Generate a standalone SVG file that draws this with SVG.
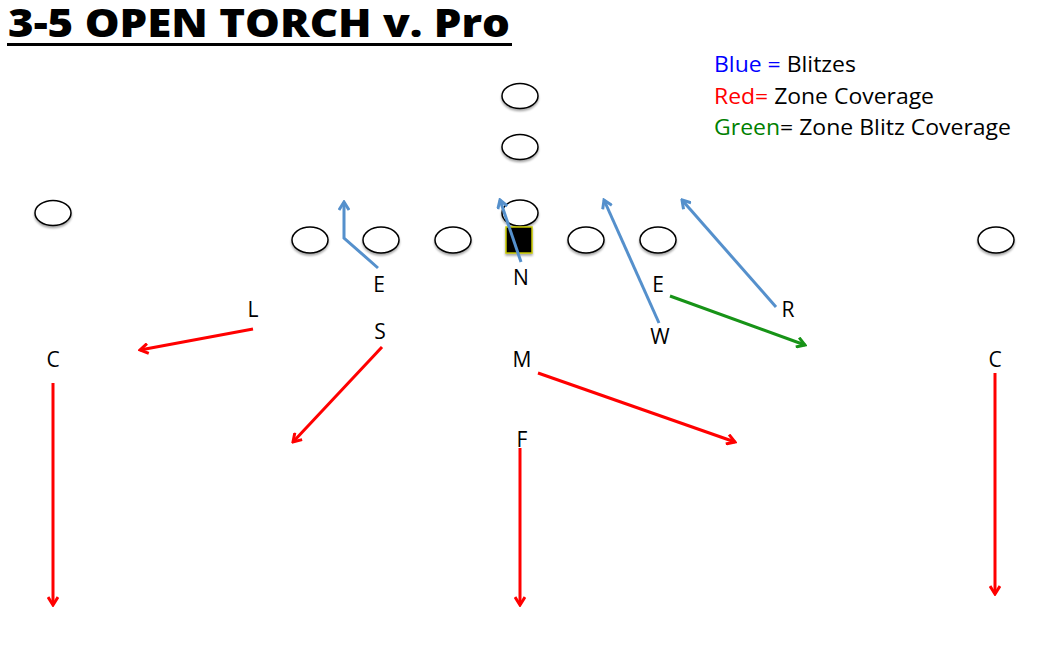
<svg xmlns="http://www.w3.org/2000/svg" width="1056" height="657" viewBox="0 0 1056 657">
<defs>
<style>
.pos{fill:#fff;stroke:#000;stroke-width:1.5}
.lbl{font-family:"Open Sans",Lato,sans-serif;font-size:21px;fill:#000;text-anchor:middle}
.leg{font-family:"Open Sans",Lato,sans-serif;font-size:21px;fill:#000}
.blue{stroke:#5590cc;stroke-width:3;fill:none;marker-end:url(#ab)}
.red{stroke:#ff0000;stroke-width:3;fill:none;marker-end:url(#ar)}
.green{stroke:#179317;stroke-width:3;fill:none;marker-end:url(#ag)}
</style>
<filter id="sh" x="-20%" y="-20%" width="140%" height="160%">
<feDropShadow dx="0" dy="2" stdDeviation="1.2" flood-color="#000" flood-opacity="0.35"/>
</filter>
<marker id="ab" viewBox="-10 -6 12 12" markerWidth="12" markerHeight="12" refX="0" refY="0" orient="auto" markerUnits="userSpaceOnUse">
<path d="M-8,-5 L0,0 L-8,5" fill="none" stroke="#5590cc" stroke-width="3"/>
</marker>
<marker id="ar" viewBox="-10 -6 12 12" markerWidth="12" markerHeight="12" refX="0" refY="0" orient="auto" markerUnits="userSpaceOnUse">
<path d="M-8,-5 L0,0 L-8,5" fill="none" stroke="#ff0000" stroke-width="3"/>
</marker>
<marker id="ag" viewBox="-10 -6 12 12" markerWidth="12" markerHeight="12" refX="0" refY="0" orient="auto" markerUnits="userSpaceOnUse">
<path d="M-8,-5 L0,0 L-8,5" fill="none" stroke="#179317" stroke-width="3"/>
</marker>
</defs>
<rect width="1056" height="657" fill="#fff"/>
<g id="title">
<text x="8" y="37" font-family="'Open Sans',Lato,sans-serif" font-weight="800" font-size="38" textLength="502" lengthAdjust="spacingAndGlyphs">3-5 OPEN TORCH v. Pro</text>
<rect x="7" y="43" width="505" height="3" fill="#000"/>
</g>
<g id="legend">
<text class="leg" x="714" y="72" textLength="142" lengthAdjust="spacingAndGlyphs"><tspan fill="#0000ff">Blue = </tspan>Blitzes</text>
<text class="leg" x="714" y="104" textLength="220" lengthAdjust="spacingAndGlyphs"><tspan fill="#ff0000">Red= </tspan>Zone Coverage</text>
<text class="leg" x="714" y="135" textLength="297" lengthAdjust="spacingAndGlyphs"><tspan fill="#008000">Green</tspan>= Zone Blitz Coverage</text>
</g>
<g id="offense" filter="url(#sh)">
<ellipse id="o1" class="pos" cx="520" cy="96" rx="18" ry="12.5"/>
<ellipse id="o2" class="pos" cx="520" cy="147" rx="18" ry="12.5"/>
<ellipse id="o3" class="pos" cx="520" cy="213" rx="18" ry="13"/>
<ellipse id="o4" class="pos" cx="53" cy="213" rx="18" ry="12.5"/>
<ellipse id="o5" class="pos" cx="310" cy="240" rx="18" ry="13"/>
<ellipse id="o6" class="pos" cx="381" cy="240" rx="18" ry="13"/>
<ellipse id="o7" class="pos" cx="453" cy="240" rx="18" ry="13"/>
<rect id="center" x="506" y="227" width="26" height="26" fill="#000" stroke="#c8c800" stroke-width="1.5"/>
<ellipse id="o8" class="pos" cx="586" cy="240" rx="18" ry="13"/>
<ellipse id="o9" class="pos" cx="658" cy="240" rx="18" ry="13"/>
<ellipse id="o10" class="pos" cx="996" cy="240" rx="18" ry="13"/>
</g>
<g id="connectors">
<path class="blue" d="M378,268 L344,238 L344,202"/>
<path class="blue" d="M521,262 L500,200"/>
<path class="blue" d="M659,323 L604,200"/>
<path class="blue" d="M776,307 L682,200"/>
<path class="green" d="M670,296 L805,345"/>
<path class="red" d="M253,329 L140,350"/>
<path class="red" d="M382,347 L293,442"/>
<path class="red" d="M538,373 L735,442"/>
<path class="red" d="M520,448 L520,605"/>
<path class="red" d="M53,383 L53,605"/>
<path class="red" d="M995,373 L995,594"/>
</g>
<g id="defense">
<g id="dE1"><text class="lbl" x="379" y="292">E</text></g>
<g id="dN"><text class="lbl" x="521" y="285">N</text></g>
<g id="dE2"><text class="lbl" x="658" y="292">E</text></g>
<g id="dL"><text class="lbl" x="253" y="317">L</text></g>
<g id="dS"><text class="lbl" x="380" y="339">S</text></g>
<g id="dR"><text class="lbl" x="788" y="317">R</text></g>
<g id="dW"><text class="lbl" x="660" y="344">W</text></g>
<g id="dC1"><text class="lbl" x="53" y="367">C</text></g>
<g id="dM"><text class="lbl" x="522" y="367">M</text></g>
<g id="dF"><text class="lbl" x="522" y="447">F</text></g>
<g id="dC2"><text class="lbl" x="995" y="367">C</text></g>
</g>
</svg>
